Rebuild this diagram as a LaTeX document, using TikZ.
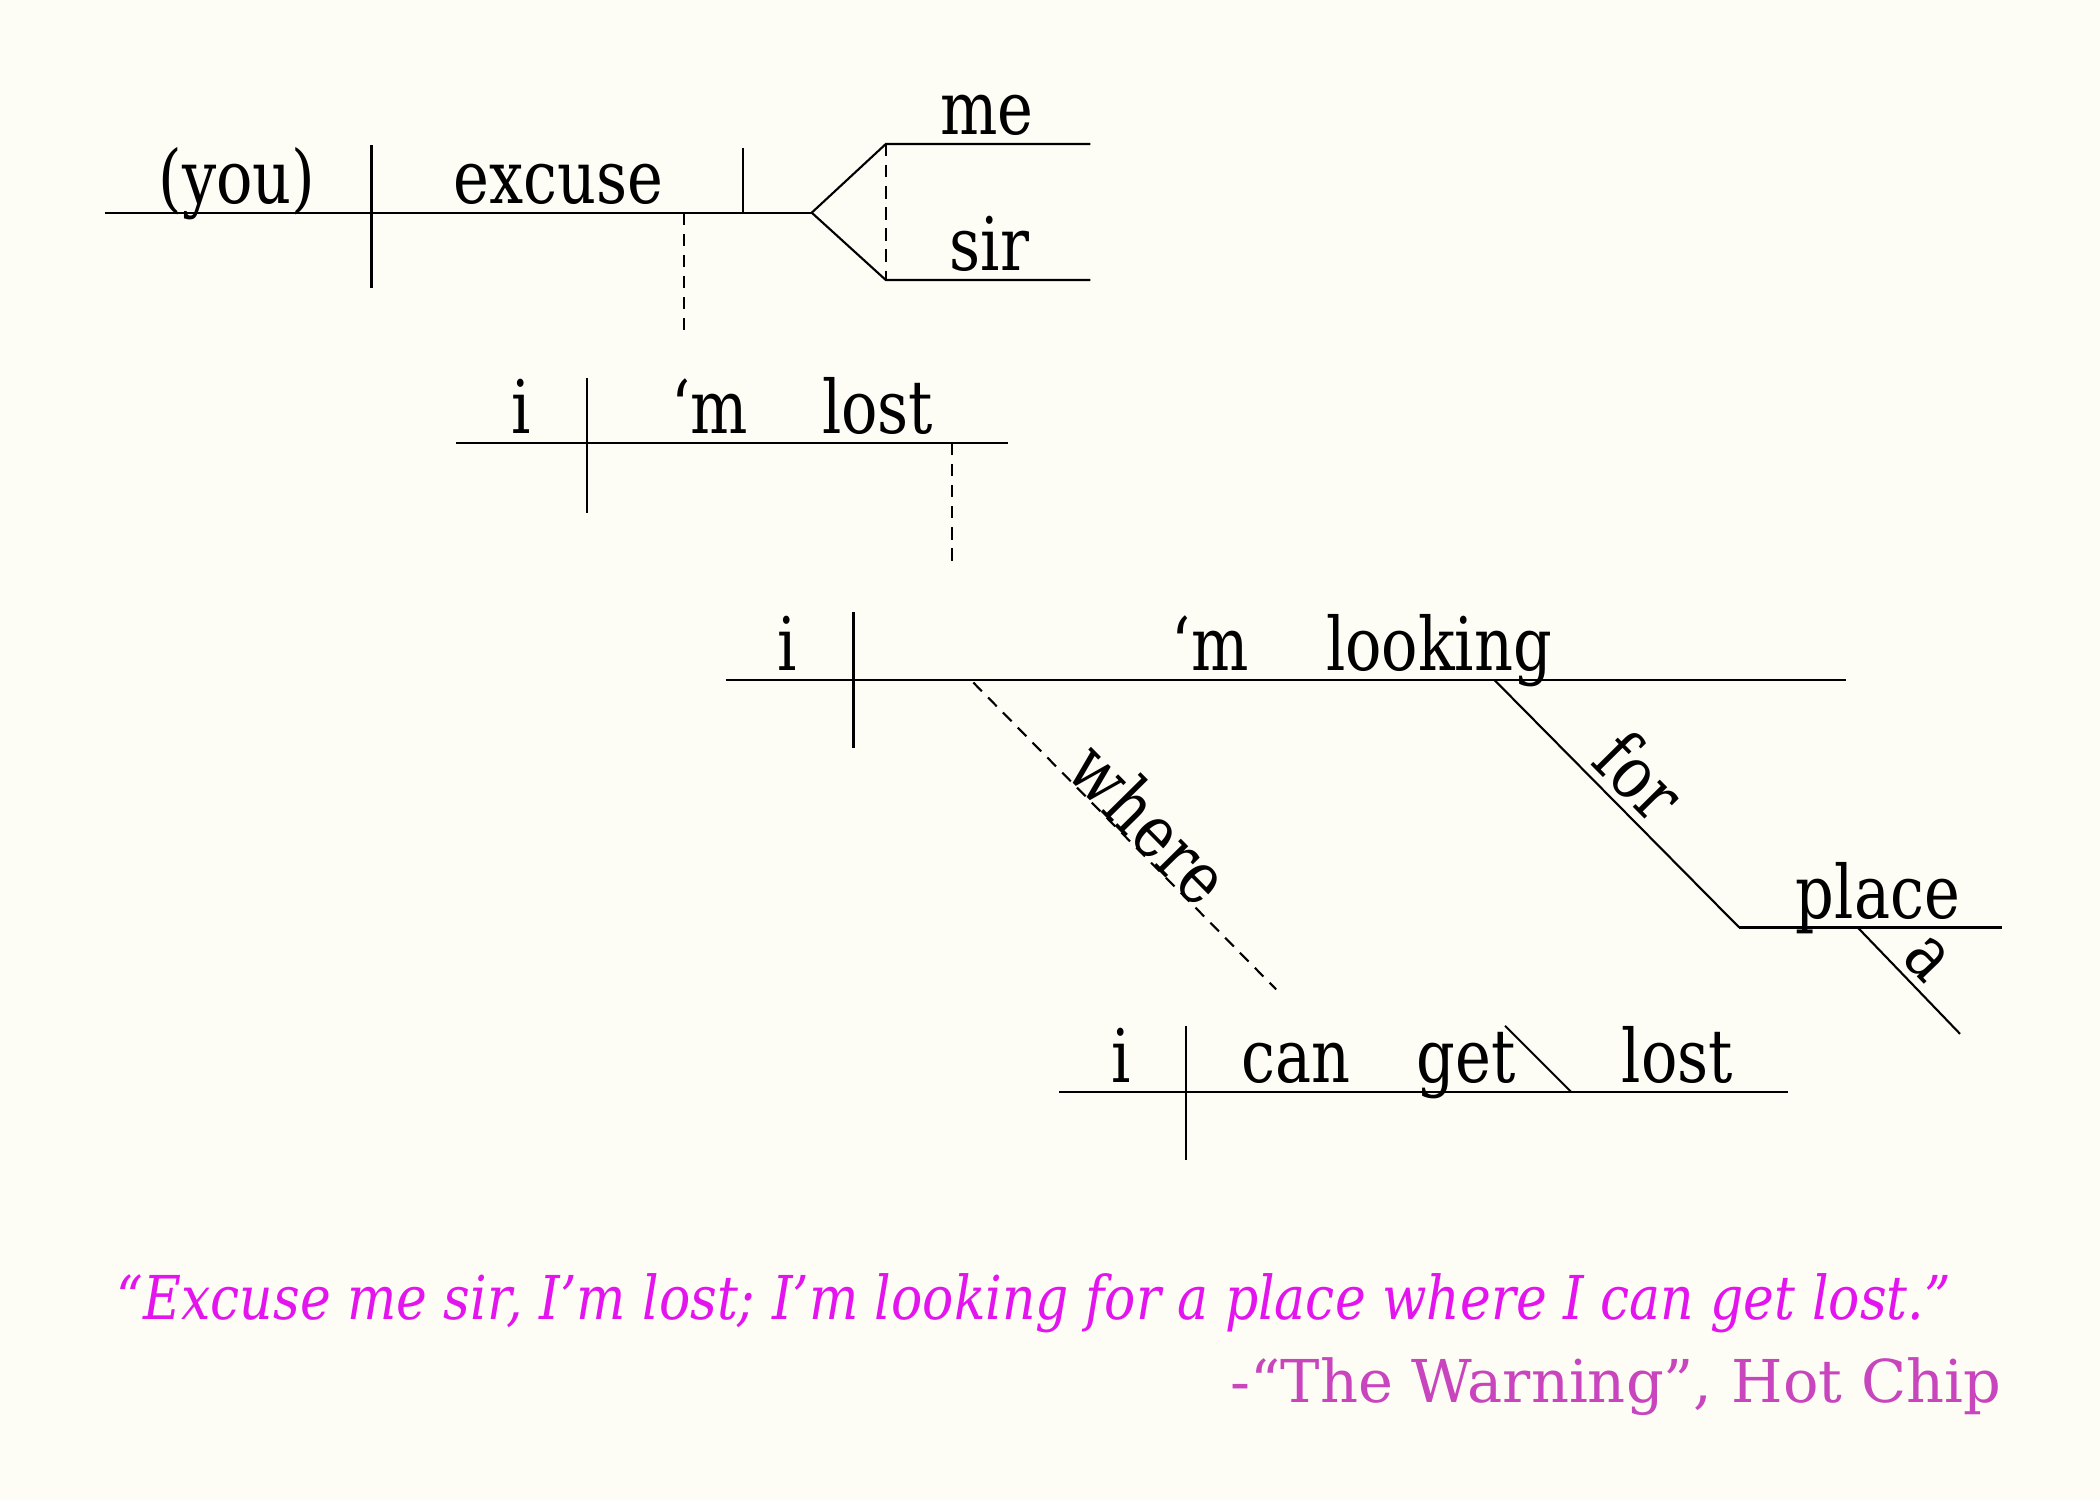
\documentclass[tikz,border=0pt]{standalone}
\usepackage{fontspec}
\setmainfont{DejaVu Serif}
\newfontfamily\wordfam[FakeStretch=0.82]{DejaVu Serif}
\newfontfamily\quotefam[FakeStretch=0.86]{DejaVu Serif}
\usetikzlibrary{positioning}
\definecolor{paper}{HTML}{FDFDF6}
\definecolor{quotemag}{HTML}{E414EE}
\definecolor{creditmag}{HTML}{C845BD}
\newcommand{\wordfont}{\wordfam\fontsize{21}{24}\selectfont}

\begin{document}
\begin{tikzpicture}[x=0.013462cm, y=-0.013462cm,
    word/.style={font=\wordfont, anchor=base, inner sep=0pt},
    rule/.style={line width=0.6pt},
    hidden/.style={line width=0.6pt, dash pattern=on 3.5pt off 2.5pt}]

    \fill[paper] (0,0) rectangle (1560,1114.3);
    \useasboundingbox (0,0) rectangle (1560,1114.3);

    % main clause: (you) excuse me / sir
    \coordinate (mainW) at (78,158);
    \coordinate (fork) at (603,158);
    \coordinate (meW) at (658,107);
    \coordinate (meE) at (810,107);
    \coordinate (sirW) at (658,208);
    \coordinate (sirE) at (810,208);
    \draw[rule] (mainW) -- (fork);
    \draw[rule] (276,108) -- (276,214);
    \draw[rule] (552,110) -- (552,158);
    \draw[rule] (fork) -- (meW) -- (meE);
    \draw[rule] (fork) -- (sirW) -- (sirE);
    \draw[hidden] (meW) -- (sirW);
    \node[word] (you) at (176,151) {(you)};
    \node[word] (excuse) at (415,151) {excuse};
    \node[word] (me) at (733,100) {me};
    \node[word] (sir) at (735,201) {sir};

    % i 'm lost
    \coordinate (lostW) at (339,329);
    \coordinate (lostE) at (749,329);
    \draw[rule] (lostW) -- (lostE);
    \draw[rule] (436,281) -- (436,381);
    \draw[hidden] (508,158) -- (508,252);
    \node[word] (i1) at (387,322) {i};
    \node[word] (m1) at (527,322) {‘m};
    \node[word] (lost1) at (652,322) {lost};

    % i 'm looking for a place
    \coordinate (lookW) at (539,505);
    \coordinate (lookE) at (1371,505);
    \coordinate (forTop) at (1110,505);
    \coordinate (placeW) at (1292,689);
    \coordinate (placeE) at (1487,689);
    \coordinate (aTop) at (1380,689);
    \coordinate (aEnd) at (1456,768);
    \draw[rule] (lookW) -- (lookE);
    \draw[rule] (634,455) -- (634,556);
    \draw[hidden] (707,329) -- (707,423);
    \node[word] (i2) at (585,498) {i};
    \node[word] (m2) at (899,498) {‘m};
    \node[word] (looking) at (1069,498) {looking};
    \draw[rule] (forTop) -- (placeW)
        node[pos=0.49, sloped, above, font=\wordfont, inner sep=2pt] (for) {for};
    \draw[rule] (placeW) -- (placeE);
    \node[word] (place) at (1395,682) {place};
    \draw[rule] (aTop) -- (aEnd)
        node[pos=0.48, sloped, above, font=\wordfont, inner sep=2pt] (a) {a};

    % where i can get lost
    \coordinate (whereTop) at (723,507);
    \coordinate (whereEnd) at (948,735);
    \draw[hidden] (whereTop) -- (whereEnd)
        node[pos=0.52, sloped, word] (where) {where};
    \coordinate (getW) at (787,811);
    \coordinate (getE) at (1328,811);
    \coordinate (compTop) at (1118,762);
    \coordinate (compFoot) at (1167,811);
    \draw[rule] (getW) -- (getE);
    \draw[rule] (881,762) -- (881,862);
    \draw[rule] (compTop) -- (compFoot);
    \node[word] (i3) at (833,804) {i};
    \node[word] (can) at (963,804) {can};
    \node[word] (get) at (1089,804) {get};
    \node[word] (lost2) at (1246,804) {lost};

    % the quote
    \node[anchor=base, inner sep=0pt, text=quotemag, font=\quotefam\fontsize{17.2}{20}\selectfont\itshape]
        (quote) at (768,980) {“Excuse me sir, I’m lost; I’m looking for a place where I can get lost.”};
    \node[anchor=base east, inner sep=0pt, text=creditmag, font=\fontsize{16.8}{20}\selectfont]
        (credit) at (1487,1042) {-“The Warning”, Hot Chip};
\end{tikzpicture}
\end{document}
